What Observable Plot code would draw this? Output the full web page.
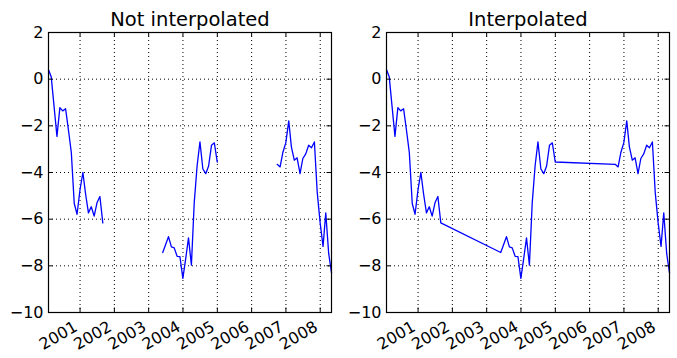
<!DOCTYPE html>
<html><head><meta charset="utf-8">
<script src="https://cdn.jsdelivr.net/npm/d3@7"></script>
<script src="https://cdn.jsdelivr.net/npm/@observablehq/plot@0.6"></script>
<style>
body{margin:0;background:#fff;}
#chart{display:flex;width:677px;height:358px;overflow:hidden;}
svg{font-family:"DejaVu Sans";}
</style></head><body><div id="chart"></div>
<script>
const titles = ["Not interpolated", "Interpolated"];
// monthly series, first value = end of Jan 2000; null = missing month
const firstMonth = "2000-02-01";
const values = [
  0.4, 0.1, -1.2, -2.45, -1.22, -1.36, -1.27, -2.2, -3.15, -5.33,
  -5.79, -4.75, -4.0, -4.9, -5.73, -5.47, -5.87, -5.3, -5.03, -6.16,
  null, null, null, null, null, null, null, null, null, null,
  null, null, null, null, null, null, null, null, null, null,
  -7.43, -7.1, -6.75, -7.19, -7.23, -7.59, -7.61, -8.54, -7.67, -6.8,
  -7.97, -5.3, -3.7, -2.69, -3.85, -4.05, -3.72, -2.83, -2.73, -3.55,
  null, null, null, null, null, null, null, null, null, null,
  null, null, null, null, null, null, null, null, null, null,
  -3.65, -3.76, -3.13, -2.72, -1.79, -2.9, -3.47, -3.37, -4.05, -3.4,
  -3.2, -2.83, -2.94, -2.69, -4.85, -6.15, -7.17, -5.73, -7.47, -8.3
];
const yTicks = [-10, -8, -6, -4, -2, 0, 2];
const yearLabels = ["2001", "2002", "2003", "2004", "2005", "2006", "2007", "2008"];

const dates = values.map((_, i) => d3.utcDay.offset(d3.utcMonth.offset(new Date(firstMonth), i), -1));
const rows = values.map((v, i) => ({date: dates[i], value: v == null ? NaN : v}));
const rowsKnown = rows.filter(d => !isNaN(d.value));
const years = yearLabels.map(y => new Date(y + "-01-01"));

function panel(title, data, width, marginRight) {
  const fw = width - 48 - marginRight, fh = 358 - 32 - 46, tl = 4.5;
  const grid = {stroke: "black", strokeOpacity: 1, strokeDasharray: "1,3", strokeWidth: 1};
  return Plot.plot({
    width, height: 358, marginTop: 32, marginBottom: 46, marginLeft: 48, marginRight,
    style: {fontFamily: "DejaVu Sans", fontSize: "16px", color: "black", background: "white", overflow: "visible"},
    x: {type: "utc", domain: [dates[0], dates[dates.length - 1]]},
    y: {domain: [-10, 2]},
    marks: [
      Plot.gridX(years, grid),
      Plot.gridY(yTicks, grid),
      Plot.line(data, {x: "date", y: "value", stroke: "#0000ff", strokeWidth: 1.3}),
      Plot.tickX(years, {x: d => d, insetTop: fh - tl, stroke: "black"}),
      Plot.tickX(years, {x: d => d, insetBottom: fh - tl, stroke: "black"}),
      Plot.tickY(yTicks, {y: d => d, insetRight: fw - tl, stroke: "black"}),
      Plot.tickY(yTicks, {y: d => d, insetLeft: fw - tl, stroke: "black"}),
      Plot.frame({stroke: "black", strokeWidth: 1.2}),
      Plot.axisY(yTicks, {tickSize: 0, tickPadding: 5, tickFormat: d3.format("d"), label: null, fontSize: 16}),
      Plot.axisX(years, {tickSize: 0, tickPadding: 13, tickRotate: -30, tickFormat: d3.utcFormat("%Y"), label: null, dx: -4, fontSize: 16}),
      Plot.text([title], {frameAnchor: "top", lineAnchor: "bottom", dy: -7, fontSize: 19.5, fill: "black"})
    ]
  });
}
const el = document.getElementById("chart");
el.append(panel(titles[0], rows, 338, 7));
el.append(panel(titles[1], rowsKnown, 339, 8));
</script></body></html>
